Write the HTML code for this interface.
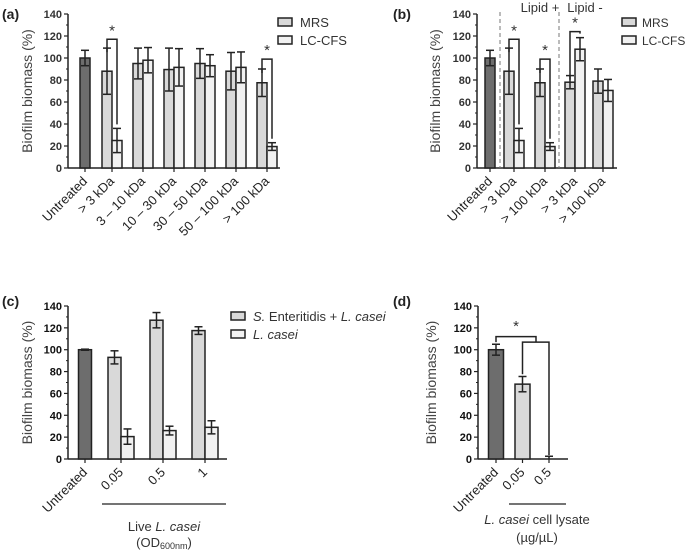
<!DOCTYPE html>
<html><head><meta charset="utf-8">
<style>
html,body{margin:0;padding:0;background:#fff;}
svg{display:block;font-family:"Liberation Sans",sans-serif;}
</style></head>
<body>
<svg id="fig" width="685" height="553" viewBox="0 0 685 553" xmlns="http://www.w3.org/2000/svg"></svg>
<script>
// ---- Panel (a) data ----
const aCats = ["Untreated", "> 3 kDa", "3 \u2013 10 kDa", "10 \u2013 30 kDa", "30 \u2013 50 kDa", "50 \u2013 100 kDa", "> 100 kDa"];
const aMRS = [100, 88, 95, 89.5, 95, 88, 77.5];
const aMRSErr = [7, 21, 14, 19.5, 13.5, 17, 12.5];
const aLC = [null, 25, 98, 91.5, 93, 91.5, 19.5];
const aLCErr = [null, 11, 11.5, 17, 10, 14, 3.5];
const aSig = [117, null, null, null, null, 99];
// ---- Panel (b) data ----
const bCats = ["Untreated", "> 3 kDa", "> 100 kDa", "> 3 kDa", "> 100 kDa"];
const bMRS = [100, 88, 77.5, 78, 79];
const bMRSErr = [7, 21, 12.5, 6, 11];
const bLC = [null, 25, 19.5, 108, 70.5];
const bLCErr = [null, 11, 3.5, 10.5, 10];
const bSig = [117, 99, 124, null];
// ---- Panel (c) data ----
const cCats = ["Untreated", "0.05", "0.5", "1"];
const cMix = [100, 93, 127, 117.5];
const cMixErr = [0.5, 6, 7, 3.5];
const cLC = [null, 20.5, 26, 29];
const cLCErr = [null, 7, 4, 6];
// ---- Panel (d) data ----
const dCats = ["Untreated", "0.05", "0.5"];
const dVals = [100, 68.5, 0];
const dErr = [5, 7, 2.5];
const yTicks = [0, 20, 40, 60, 80, 100, 120, 140];

const NS = "http://www.w3.org/2000/svg";
const svg = document.getElementById("fig");
function mk(tag, attrs, parent, name) {
  const el = document.createElementNS(NS, tag);
  for (const k in attrs) el.setAttribute(k, attrs[k]);
  
  
  (parent || svg).appendChild(el);
  return el;
}
function txt(s, attrs, parent, name) { const t = mk("text", attrs, parent, name); t.textContent = s; return t; }

function axes(p) {
  const g = mk("g", {}, svg, p.id + "-axes");
  const y = v => p.y0 - (p.y0 - p.y140) * v / 140;
  mk("line", {x1:p.x0, y1:p.y140, x2:p.x0, y2:p.y0, stroke:"#222", "stroke-width":1.5}, g, "y-axis");
  mk("line", {x1:p.x0, y1:p.y0, x2:p.xEnd, y2:p.y0, stroke:"#222", "stroke-width":1.5}, g, "x-axis");
  yTicks.forEach(v => {
    mk("line", {x1:p.x0-4, y1:y(v), x2:p.x0, y2:y(v), stroke:"#222", "stroke-width":1.2}, g, "y-tick");
    if (v < 140) mk("line", {x1:p.x0-2, y1:y(v+10), x2:p.x0, y2:y(v+10), stroke:"#222", "stroke-width":1}, g, "y-minor-tick");
    txt(String(v), {x:p.x0-6, y:y(v)+4, "text-anchor":"end", "font-size":11, "font-weight":"bold", fill:p.bold?"#111":"#333"}, g, "y-tick-label");
  });
  const cy = (p.y0 + p.y140) / 2;
  txt("Biofilm biomass (%)", {x:p.titleX, y:cy, "text-anchor":"middle", "font-size":14, fill:"#444", transform:`rotate(-90 ${p.titleX} ${cy})`}, g, "y-axis-title");
  return y;
}
function bar(x, w, v, e, fill, y, name) {
  const g = mk("g", {}, svg, name);
  mk("rect", {x:x, y:y(v), width:w, height:y(0)-y(v), fill:fill, stroke:"#222", "stroke-width":1.5}, g, name + "-rect");
  const cx = x + w/2;
  mk("line", {x1:cx, y1:y(v+e), x2:cx, y2:y(Math.max(v-e,0)), stroke:"#222", "stroke-width":1.5}, g, name + "-error");
  mk("line", {x1:cx-4, y1:y(v+e), x2:cx+4, y2:y(v+e), stroke:"#222", "stroke-width":1.5}, g, name + "-error-cap");
  if (v - e > 0) mk("line", {x1:cx-4, y1:y(v-e), x2:cx+4, y2:y(v-e), stroke:"#222", "stroke-width":1.5}, g, name + "-error-cap");
}
function xLabel(s, cx, yy, bold, name) {
  txt(s, {x:cx+3, y:yy+10, "text-anchor":"end", "font-size":13, fill:"#222", transform:`rotate(-45 ${cx+3} ${yy+10})`}, svg, name);
}
function bracket(x1, x2, lvl, e1, e2, y, name) {
  const g = mk("g", {}, svg, name);
  mk("path", {d:`M${x1} ${y(e1)+4} L${x1} ${y(lvl)} L${x2} ${y(lvl)} L${x2} ${y(e2)-4}`, fill:"none", stroke:"#222", "stroke-width":1.5}, g, name + "-line");
  txt("*", {x:(x1+x2)/2, y:y(lvl)-4, "text-anchor":"middle", "font-size":15, fill:"#333"}, g, name + "-star");
}
function legend(x, y0, items, fs, gap) {
  items.forEach((it, i) => {
    const g = mk("g", {}, svg, "legend-entry");
    mk("rect", {x:x, y:y0+i*18-4, width:14, height:8, fill:it.fill, stroke:"#222", "stroke-width":1.5}, g, "legend-swatch");
    const t = mk("text", {x:x+(gap||22), y:y0+i*18+5, "font-size":fs||13, fill:"#333"}, g, "legend-label");
    it.parts.forEach(pt => { const s = mk("tspan", pt.it?{"font-style":"italic"}:{}, t, "legend-text-part"); s.textContent = pt.t; });
  });
}
const DARK = "#6d6d6d", MRS = "#d9d9d9", LC = "#f1f1f1";

[["(a)",2,19],["(b)",393,19],["(c)",2,306],["(d)",393,306]].forEach(l =>
  txt(l[0], {x:l[1], y:l[2], "font-size":14, "font-weight":"bold", fill:"#222"}, svg, "panel-label"));

// ---- Panel a ----
{
  const p = {id:"a", x0:68, xEnd:280, y0:168, y140:14, titleX:32};
  const y = axes(p);
  const cx = i => i === 0 ? 85 : 112 + 31*(i-1);
  aCats.forEach((c, i) => {
    if (i === 0) bar(cx(i)-5, 10, aMRS[i], aMRSErr[i], DARK, y, "bar-untreated");
    else { bar(cx(i)-10, 10, aMRS[i], aMRSErr[i], MRS, y, "bar-mrs"); bar(cx(i), 10, aLC[i], aLCErr[i], LC, y, "bar-lc-cfs"); }
    mk("line", {x1:cx(i), y1:168, x2:cx(i), y2:172, stroke:"#222", "stroke-width":1.2}, svg, "x-tick");
    xLabel(c, cx(i), 172, false, "x-tick-label");
  });
  aSig.forEach((lvl, k) => { if (lvl === null) return; const i = k+1;
    bracket(cx(i)-5, cx(i)+5, lvl, aMRS[i]+aMRSErr[i], aLC[i]+aLCErr[i], y, "significance-bracket"); });
  legend(278, 22, [{fill:MRS, parts:[{t:"MRS"}]}, {fill:LC, parts:[{t:"LC-CFS"}]}]);
}
// ---- Panel b ----
{
  const p = {id:"b", x0:477, xEnd:617, y0:168, y140:14, titleX:440};
  const y = axes(p);
  const cxs = i => [490, 514, 545, 575, 603][i];
  bCats.forEach((c, i) => {
    if (i === 0) bar(cxs(i)-5, 10, bMRS[i], bMRSErr[i], DARK, y, "bar-untreated");
    else { bar(cxs(i)-10, 10, bMRS[i], bMRSErr[i], MRS, y, "bar-mrs"); bar(cxs(i), 10, bLC[i], bLCErr[i], LC, y, "bar-lc-cfs"); }
    mk("line", {x1:cxs(i), y1:168, x2:cxs(i), y2:172, stroke:"#222", "stroke-width":1.2}, svg, "x-tick");
    xLabel(c, cxs(i), 172, false, "x-tick-label");
  });
  bSig.forEach((lvl, k) => { if (lvl === null) return; const i = k+1;
    bracket(cxs(i)-5, cxs(i)+5, lvl, bMRS[i]+bMRSErr[i], bLC[i]+bLCErr[i], y, "significance-bracket"); });
  mk("line", {x1:500, y1:12, x2:500, y2:168, stroke:"#777", "stroke-width":1, "stroke-dasharray":"4,3"}, svg, "lipid-divider");
  mk("line", {x1:559, y1:12, x2:559, y2:168, stroke:"#777", "stroke-width":1, "stroke-dasharray":"4,3"}, svg, "lipid-divider");
  txt("Lipid +", {x:540, y:12, "text-anchor":"middle", "font-size":13, fill:"#333"}, svg, "lipid-plus-label");
  txt("Lipid -", {x:585, y:12, "text-anchor":"middle", "font-size":13, fill:"#333"}, svg, "lipid-minus-label");
  legend(622, 22, [{fill:MRS, parts:[{t:"MRS"}]}, {fill:LC, parts:[{t:"LC-CFS"}]}], 12, 20);
}
// ---- Panel c ----
{
  const p = {id:"c", x0:68, xEnd:227, y0:459, y140:306, titleX:32, bold:true};
  const y = axes(p);
  const cx = i => i === 0 ? 85 : 121 + 42*(i-1);
  cCats.forEach((c, i) => {
    if (i === 0) bar(cx(i)-6.5, 13, cMix[i], cMixErr[i], DARK, y, "bar-untreated");
    else { bar(cx(i)-13, 13, cMix[i], cMixErr[i], MRS, y, "bar-s-enteritidis-l-casei"); bar(cx(i), 13, cLC[i], cLCErr[i], LC, y, "bar-l-casei"); }
    mk("line", {x1:cx(i), y1:459, x2:cx(i), y2:463, stroke:"#222", "stroke-width":1.2}, svg, "x-tick");
    xLabel(c, cx(i), 463, false, "x-tick-label");
  });
  mk("line", {x1:102, y1:504, x2:226, y2:504, stroke:"#222", "stroke-width":1.2}, svg, "group-underline");
  const t = mk("text", {x:164, y:531, "text-anchor":"middle", "font-size":13, fill:"#333"}, svg, "group-label");
  t.innerHTML = 'Live <tspan font-style="italic">L. casei</tspan>';
  const t2 = mk("text", {x:164, y:547, "text-anchor":"middle", "font-size":13, fill:"#333"}, svg, "group-label-units");
  t2.innerHTML = '(OD<tspan font-size="9" dy="2">600nm</tspan><tspan dy="-2">)</tspan>';
  legend(231, 316, [
    {fill:MRS, parts:[{t:"S.",it:true},{t:" Enteritidis + "},{t:"L. casei",it:true}]},
    {fill:LC, parts:[{t:"L. casei",it:true}]}]);
}
// ---- Panel d ----
{
  const p = {id:"d", x0:478, xEnd:568, y0:459, y140:306, titleX:436, bold:true};
  const y = axes(p);
  const cx = i => 496 + 26.5*i;
  dCats.forEach((c, i) => {
    bar(cx(i)-7.5, 15, dVals[i], dErr[i], i === 0 ? DARK : MRS, y, "bar-" + (i===0?"untreated":"lysate"));
    mk("line", {x1:cx(i), y1:459, x2:cx(i), y2:463, stroke:"#222", "stroke-width":1.2}, svg, "x-tick");
    xLabel(c, cx(i), 463, false, "x-tick-label");
  });
  const top0 = dVals[0]+dErr[0]+2, top1 = dVals[1]+dErr[1]+2, top2 = dVals[2]+dErr[2]+1;
  const g = mk("g", {}, svg, "significance-bracket");
  mk("path", {d:`M${cx(0)} ${y(top0)} L${cx(0)} ${y(112)} L${536} ${y(112)} L${536} ${y(107)}`, fill:"none", stroke:"#222", "stroke-width":1.5}, g, "bracket-outer");
  mk("path", {d:`M${cx(1)} ${y(top1)} L${cx(1)} ${y(107)} L${cx(2)} ${y(107)} L${cx(2)} ${y(top2)}`, fill:"none", stroke:"#222", "stroke-width":1.5}, g, "bracket-inner");
  txt("*", {x:516, y:331, "text-anchor":"middle", "font-size":15, fill:"#333"}, g, "significance-star");
  mk("line", {x1:509, y1:504, x2:566, y2:504, stroke:"#222", "stroke-width":1.2}, svg, "group-underline");
  const t = mk("text", {x:537, y:524, "text-anchor":"middle", "font-size":13, fill:"#333"}, svg, "group-label");
  t.innerHTML = '<tspan font-style="italic">L. casei</tspan> cell lysate';
  txt("(\u00b5g/\u00b5L)", {x:537, y:542, "text-anchor":"middle", "font-size":13, fill:"#333"}, svg, "group-label-units");
}
</script>
</body></html>
